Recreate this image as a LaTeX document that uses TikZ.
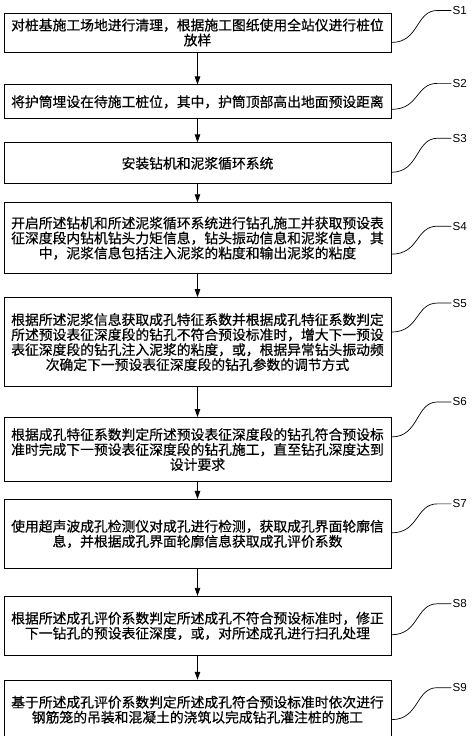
\documentclass[tikz,border=0pt]{standalone}
\usepackage{fontspec}
\newfontfamily\cjkfont[FakeBold=0.5]{Noto Sans CJK SC}
\newfontfamily\labelfont{Liberation Sans}
\usetikzlibrary{positioning,arrows.meta,calc}

\begin{document}
\begin{tikzpicture}[x=1pt, y=1pt,
  stepbox/.style={draw, line width=0.9pt, minimum width=387pt, text width=380pt,
    align=center, inner sep=0pt, font=\cjkfont\fontsize{13.8pt}{15pt}\selectfont},
  steplabel/.style={anchor=west, inner sep=1pt, font=\labelfont\fontsize{11.6pt}{13pt}\selectfont},
  flow/.style={-{Triangle[length=8pt,width=5.5pt]}, line width=0.8pt},
  lead/.style={line width=0.7pt}]
  \useasboundingbox (0,0) rectangle (474,-736);

  % process steps
  \node[stepbox, minimum height=39pt] (s1) at (197.5,-32.5)
    {对桩基施工场地进行清理，根据施工图纸使用全站仪进行桩位\\放样};
  \node[stepbox, minimum height=34pt, below=32pt of s1] (s2)
    {将护筒埋设在待施工桩位，其中，护筒顶部高出地面预设距离};
  \node[stepbox, minimum height=41pt, below=23pt of s2] (s3)
    {安装钻机和泥浆循环系统};
  \node[stepbox, minimum height=71pt, below=18pt of s3] (s4)
    {开启所述钻机和所述泥浆循环系统进行钻孔施工并获取预设表\\征深度段内钻机钻头力矩信息，钻头振动信息和泥浆信息，其\\中，泥浆信息包括注入泥浆的粘度和输出泥浆的粘度};
  \node[stepbox, minimum height=89pt, below=23pt of s4] (s5)
    {根据所述泥浆信息获取成孔特征系数并根据成孔特征系数判定\\所述预设表征深度段的钻孔不符合预设标准时，增大下一预设\\表征深度段的钻孔注入泥浆的粘度，或，根据异常钻头振动频\\次确定下一预设表征深度段的钻孔参数的调节方式};
  \node[stepbox, minimum height=64pt, below=30pt of s5] (s6)
    {根据成孔特征系数判定所述预设表征深度段的钻孔符合预设标\\准时完成下一预设表征深度段的钻孔施工，直至钻孔深度达到\\设计要求};
  \node[stepbox, minimum height=69pt, below=17pt of s6] (s7)
    {使用超声波成孔检测仪对成孔进行检测，获取成孔界面轮廓信\\息，并根据成孔界面轮廓信息获取成孔评价系数};
  \node[stepbox, minimum height=59pt, below=27pt of s7] (s8)
    {根据所述成孔评价系数判定所述成孔不符合预设标准时，修正\\下一钻孔的预设表征深度，或，对所述成孔进行扫孔处理};
  \node[stepbox, minimum height=59pt, below=24pt of s8] (s9)
    {基于所述成孔评价系数判定所述成孔符合预设标准时依次进行\\钢筋笼的吊装和混凝土的浇筑以完成钻孔灌注桩的施工};

  % flow arrows
  \foreach \a/\b in {s1/s2, s2/s3, s3/s4, s4/s5, s5/s6, s6/s7, s7/s8, s8/s9}
    \draw[flow] (\a) -- (\b);

  % step labels with leader curves
  \foreach \i/\up/\rise in {1/10/32, 2/10/26, 3/12/34, 4/20/28, 5/55/29,
                            6/45/35, 7/36/29, 8/21/31, 9/20/32} {
    \coordinate (c\i) at ($(s\i.south east)+(0,\up)$);
    \node[steplabel] (l\i) at ($(c\i)+(60,\rise)$) {S\i};
    \draw[lead] (c\i) .. controls +(28,0) and +(-22,0) .. ($(c\i)+(46,\rise)$) -- (l\i.west);
  }
\end{tikzpicture}
\end{document}
